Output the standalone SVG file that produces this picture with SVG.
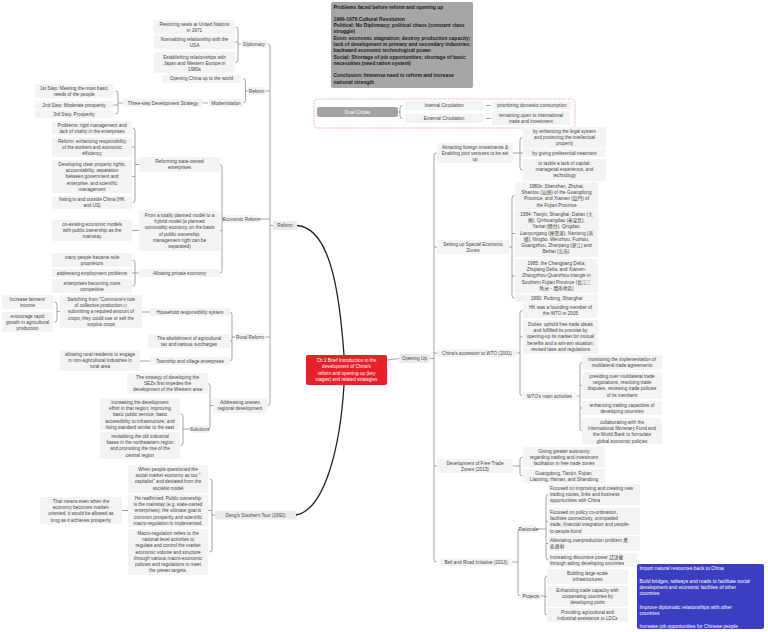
<svg xmlns="http://www.w3.org/2000/svg" width="768" height="632" viewBox="0 0 768 632">
<style>
.t{font-family:"Liberation Sans",Arial,"Noto Sans CJK TC",sans-serif;font-size:4.7px;fill:#444}
.c{text-anchor:middle}
.b{fill:#f3f3f3}
.b2{fill:#ebebeb}
.l{fill:none;stroke:#666;stroke-width:0.6}
.m{fill:none;stroke:#222;stroke-width:1.3}
.w{fill:#fff}
.k{fill:#1a1a1a;font-weight:bold;font-size:5px}
.n{font-size:4.9px}
</style>
<rect width="768" height="632" fill="#fff"/>

<g id="connectors">
<path class="m" d="M344,355 C340,300 332,228 297,225.5"/>
<path class="m" d="M344,385 C340,450 324,510 296,515"/>
<path class="l" d="M387,360 L399,358.5"/>
<path class="l" d="M267.5,44 Q270,44 270,46.5 V403 Q270,405.5 267.5,405.5 M265,91 H270 M258,219 H270 M265,337 H270 M270,225.5 H273"/>
<path class="l" d="M235.5,27 Q238,27 238,29.5 V60 Q238,62.5 235.5,62.5 M235,42 H238 M238,44 H241"/>
<path class="l" d="M243,78.5 Q245.5,78.5 245.5,81 V100.5 Q245.5,103 243,103 M245.5,91 H248"/>
<path class="l" d="M203,103 H208"/>
<path class="l" d="M115.5,91 Q118,91 118,93.5 V111.5 Q118,114 115.5,114 M113,105 H118 M118,103 H123"/>
<path class="l" d="M219.5,164.5 Q222,164.5 222,167 V270.5 Q222,273 219.5,273 M220,230.5 H222 M222,219 H225"/>
<path class="l" d="M132.5,128 Q135,128 135,130.5 V200 Q135,202.5 132.5,202.5 M132,147 H135 M132,176.5 H135 M135,164.5 H139"/>
<path class="l" d="M132,230.5 H139"/>
<path class="l" d="M132.5,260 Q135,260 135,262.5 V283.5 Q135,286 132.5,286 M132,273 H139"/>
<path class="l" d="M229.5,312 Q232,312 232,314.5 V358.5 Q232,361 229.5,361 M230,341 H232 M232,337 H235"/>
<path class="l" d="M142,312 H150"/>
<path class="l" d="M54.5,302 Q57,302 57,304.5 V319.5 Q57,322 54.5,322 M57,311.5 H60"/>
<path class="l" d="M140,361 H150"/>
<path class="l" d="M207.5,383.5 Q210,383.5 210,386 V426.5 Q210,429 207.5,429 M210,405.5 H213"/>
<path class="l" d="M180.5,414 Q183,414 183,416.5 V443 Q183,445.5 180.5,445.5 M183,429 H192"/>
<path class="l" d="M209.5,479 Q212,479 212,481.5 V549.5 Q212,552 209.5,552 M208,510.5 H212 M212,515 H215"/>
<path class="l" d="M122,510.5 H128"/>
<path class="l" d="M402.5,105.5 Q400,105.5 400,108 V116 Q400,118.5 402.5,118.5 M398,112 H400"/>
<path class="l" d="M486,105.5 H491 M486,118.5 H491"/>
<path class="l" d="M436.5,153 Q434,153 434,155.5 V559.5 Q434,562 436.5,562 M434,247 H437 M434,353 H437 M434,466 H437 M430,358.5 H434"/>
<path class="l" d="M522.5,137.5 Q520,137.5 520,140 V167.5 Q520,170 522.5,170 M520,153 H523 M513,153 H520"/>
<path class="l" d="M514.5,195.5 Q512,195.5 512,198 V295.5 Q512,298 514.5,298 M512,233.5 H515 M512,276 H515 M509,247 H512"/>
<path class="l" d="M522.5,310.5 Q520,310.5 520,313 V393.5 Q520,396 522.5,396 M520,337 H523 M517,353 H520"/>
<path class="l" d="M582.5,362.5 Q580,362.5 580,365 V428.5 Q580,431 582.5,431 M580,385.5 H582 M580,408 H582 M577,396 H580"/>
<path class="l" d="M522.5,457 Q520,457 520,459.5 V473.5 Q520,476 522.5,476 M513,466 H520"/>
<path class="l" d="M520.5,529 Q518,529 518,531.5 V593.5 Q518,596 520.5,596 M512,562 H518"/>
<path class="l" d="M548.5,494.5 Q546,494.5 546,497 V557.5 Q546,560 548.5,560 M546,521.5 H548 M546,543.5 H548 M537,529 H546"/>
<path class="l" d="M547.5,576 Q545,576 545,578.5 V612.5 Q545,615 547.5,615 M545,596.5 H547 M541,596 H545"/>
</g>

<g id="n-problems">
<rect x="331" y="2" width="142" height="86" rx="2" fill="#a6a6a6"/>
<text class="t k" x="333.5" y="8.7">Problems faced before reform and opening up</text>
<text class="t k" x="333.5" y="20.7">1966-1976 Cultural Revolution</text>
<text class="t k" x="333.5" y="27">Political: No Diplomacy; political chaos (constant class</text>
<text class="t k" x="333.5" y="33.3">struggle)</text>
<text class="t k" x="333.5" y="39.6">Econ: economic stagnation; destroy production capacity;</text>
<text class="t k" x="333.5" y="45.9">lack of development in primary and secondary industries;</text>
<text class="t k" x="333.5" y="52.2">backward economic technological power</text>
<text class="t k" x="333.5" y="58.5">Social: Shortage of job opportunities; shortage of basic</text>
<text class="t k" x="333.5" y="64.8">necessities  (need ration system)</text>
<text class="t k" x="333.5" y="77.4">Conclusion: Immense need to reform and increase</text>
<text class="t k" x="333.5" y="83.7">national strength</text>
</g>

<g id="n-center">
<rect x="306" y="355" width="81" height="30" rx="2" fill="#e8202a"/>
<text class="t c w" x="346.5" y="362.1">Ch.1 Brief Introduction to the</text>
<text class="t c w" x="346.5" y="368.4">development of China's</text>
<text class="t c w" x="346.5" y="374.7">reform and opening-up (key</text>
<text class="t c w" x="346.5" y="381">stages) and related strategies</text>
</g>

<g id="n-reform"><rect class="b2" x="273" y="221" width="24" height="9" rx="1.5"/><text class="t c" x="285" y="227.1">Reform</text></g>
<g id="n-diplomacy"><rect class="b" x="241" y="40" width="26" height="8" rx="1.5"/><text class="t c" x="254" y="45.6">Diplomacy</text></g>
<g id="n-un"><rect class="b" x="154" y="20" width="81" height="14" rx="1.5"/><text class="t c" x="194.5" y="25.6">Restoring seats at United Nations</text><text class="t c" x="194.5" y="31.6">in 1971</text></g>
<g id="n-usa"><rect class="b" x="154" y="35" width="81" height="14" rx="1.5"/><text class="t c" x="194.5" y="40.6">Normalizing relationship with the</text><text class="t c" x="194.5" y="46.6">USA</text></g>
<g id="n-japan"><rect class="b" x="154" y="52" width="81" height="21" rx="1.5"/><text class="t c" x="194.5" y="58.6">Establishing relationships with</text><text class="t c" x="194.5" y="64.6">Japan and Western Europe in</text><text class="t c" x="194.5" y="70.6">1980s</text></g>
<g id="n-reform2"><rect class="b" x="248" y="87" width="17" height="8" rx="1.5"/><text class="t c" x="256.5" y="92.6">Reform</text></g>
<g id="n-openworld"><rect class="b" x="162" y="74.5" width="79" height="8.5" rx="1.5"/><text class="t c" x="201.5" y="80.3">Opening China up to the world</text></g>
<g id="n-modern"><rect class="b" x="208" y="99" width="36" height="8" rx="1.5"/><text class="t c" x="226" y="104.6">Modernization</text></g>
<g id="n-threestep"><rect class="b" x="123" y="99" width="80" height="8" rx="1.5"/><text class="t c" x="163" y="104.6">Three-step Development Strategy</text></g>
<g id="n-step1"><rect class="b" x="35" y="84" width="78" height="14" rx="1.5"/><text class="t c" x="74" y="89.6">1st Step: Meeting the most basic</text><text class="t c" x="74" y="95.6">needs of the people</text></g>
<g id="n-step2"><rect class="b" x="35" y="101" width="78" height="8" rx="1.5"/><text class="t c" x="74" y="106.6">2nd Step: Moderate prosperity</text></g>
<g id="n-step3"><rect class="b" x="35" y="110" width="78" height="8" rx="1.5"/><text class="t c" x="74" y="115.6">3rd Step: Prosperity</text></g>

<g id="n-econ"><rect class="b" x="225" y="215" width="33" height="8" rx="1.5"/><text class="t c" x="241.5" y="220.6">Economic Reform</text></g>
<g id="n-soe"><rect class="b" x="139" y="157" width="81" height="15" rx="1.5"/><text class="t c" x="179.5" y="162.6">Reforming state-owned</text><text class="t c" x="179.5" y="168.9">enterprises</text></g>
<g id="n-soe1"><rect class="b" x="52" y="121" width="80" height="14" rx="1.5"/><text class="t c" x="92" y="126.6">Problems: rigid management and</text><text class="t c" x="92" y="132.6">lack of vitality in the enterprises</text></g>
<g id="n-soe2"><rect class="b" x="52" y="137" width="80" height="20" rx="1.5"/><text class="t c" x="92" y="142.6">Reform: enhancing responsibility</text><text class="t c" x="92" y="148.9">of the workers and economic</text><text class="t c" x="92" y="155.2">efficiency</text></g>
<g id="n-soe3"><rect class="b" x="52" y="160" width="80" height="33" rx="1.5"/><text class="t c" x="92" y="165.6">Developing clear property rights,</text><text class="t c" x="92" y="171.9">accountability, separation</text><text class="t c" x="92" y="178.2">between government and</text><text class="t c" x="92" y="184.5">enterprise, and scientific</text><text class="t c" x="92" y="190.8">management</text></g>
<g id="n-soe4"><rect class="b" x="52" y="196" width="80" height="13" rx="1.5"/><text class="t c" x="92" y="200.6">listing in and outside China (HK</text><text class="t c" x="92" y="206.9">and US)</text></g>
<g id="n-hybrid"><rect class="b" x="139" y="211" width="81" height="40" rx="1.5"/><text class="t c" x="179.5" y="216.6">From a totally planned model to a</text><text class="t c" x="179.5" y="222.9">hybrid model (a planned</text><text class="t c" x="179.5" y="229.2">commodity economy on the basis</text><text class="t c" x="179.5" y="235.5">of public ownership;</text><text class="t c" x="179.5" y="241.8">management right can be</text><text class="t c" x="179.5" y="248.1">separated)</text></g>
<g id="n-coexist"><rect class="b" x="52" y="220" width="80" height="21" rx="1.5"/><text class="t c" x="92" y="225.6">co-existing economic models</text><text class="t c" x="92" y="231.9">with public ownership as the</text><text class="t c" x="92" y="238.2">mainstay</text></g>
<g id="n-private"><rect class="b" x="139" y="269" width="81" height="8" rx="1.5"/><text class="t c" x="179.5" y="274.6">Allowing private economy</text></g>
<g id="n-prop"><rect class="b" x="52" y="253" width="80" height="14" rx="1.5"/><text class="t c" x="92" y="258.6">many people became sole</text><text class="t c" x="92" y="264.9">proprietors</text></g>
<g id="n-employ"><rect class="b" x="52" y="269" width="80" height="8" rx="1.5"/><text class="t c" x="92" y="274.6">addressing employment problems</text></g>
<g id="n-compet"><rect class="b" x="52" y="279" width="80" height="14" rx="1.5"/><text class="t c" x="92" y="284.6">enterprises becoming more</text><text class="t c" x="92" y="290.9">competitive</text></g>

<g id="n-rural"><rect class="b" x="235" y="333" width="30" height="8" rx="1.5"/><text class="t c" x="250" y="338.6">Rural Reform</text></g>
<g id="n-house"><rect class="b" x="150" y="308" width="80" height="8" rx="1.5"/><text class="t c" x="190" y="313.6">Household responsibility system</text></g>
<g id="n-switch"><rect class="b" x="60" y="295" width="82" height="33" rx="1.5"/><text class="t c" x="101" y="300.6">Switching from "Commune's rule</text><text class="t c" x="99" y="306.9">of collective production.</text><path d="M123,304.6h4M123,305.8h4M123,307h4" stroke="#888" stroke-width="0.4"/><text class="t c" x="101" y="313.2">submitting a required amount of</text><text class="t c" x="101" y="319.5">crops, they could use or sell the</text><text class="t c" x="101" y="325.8">surplus crops</text></g>
<g id="n-income"><rect class="b" x="2" y="295" width="51" height="14" rx="1.5"/><text class="t c" x="27.5" y="300.6">Increase farmers'</text><text class="t c" x="27.5" y="306.9">income</text></g>
<g id="n-agri"><rect class="b" x="2" y="312" width="51" height="20" rx="1.5"/><text class="t c" x="27.5" y="317.6">encourage rapid</text><text class="t c" x="27.5" y="323.9">growth in agricultural</text><text class="t c" x="27.5" y="330.2">production</text></g>
<g id="n-tax"><rect class="b" x="148" y="334" width="82" height="14" rx="1.5"/><text class="t c" x="189" y="339.6">The abolishment of agricultural</text><text class="t c" x="189" y="345.9">tax and various surcharges</text></g>
<g id="n-township"><rect class="b" x="150" y="357" width="80" height="8" rx="1.5"/><text class="t c" x="190" y="362.6">Township and village enterprises</text></g>
<g id="n-nonagri"><rect class="b" x="60" y="350" width="80" height="21" rx="1.5"/><text class="t c" x="100" y="355.6">allowing rural residents to engage</text><text class="t c" x="100" y="361.9">in non-agricultural industries in</text><text class="t c" x="100" y="368.2">rural area</text></g>

<g id="n-uneven"><rect class="b" x="213" y="398" width="54" height="15" rx="1.5"/><text class="t c" x="240" y="403.6">Addressing uneven</text><text class="t c" x="240" y="409.9">regional development</text></g>
<g id="n-sezfirst"><rect class="b" x="127" y="373" width="81" height="21" rx="1.5"/><text class="t c" x="167.5" y="378.6">The strategy of developing the</text><text class="t c" x="167.5" y="384.9">SEZs first impedes the</text><text class="t c" x="167.5" y="391.2">development of the Western area</text></g>
<g id="n-solutions"><rect class="b" x="192" y="425" width="16" height="8" rx="1.5"/><text class="t c" x="200" y="430.6">Solutions</text></g>
<g id="n-sol1"><rect class="b" x="100" y="398" width="80" height="32" rx="1.5"/><text class="t c" x="140" y="403.6">increasing the development</text><text class="t c" x="140" y="409.9">effort in that region; improving</text><text class="t c" x="140" y="416.2">basic public service, basic</text><text class="t c" x="140" y="422.5">accessibility to infrastructure, and</text><text class="t c" x="140" y="428.8">living standard similar to the east</text></g>
<g id="n-sol2"><rect class="b" x="100" y="432" width="80" height="27" rx="1.5"/><text class="t c" x="140" y="437.6">revitalising the old industrial</text><text class="t c" x="140" y="443.9">bases in the northeastern region</text><text class="t c" x="140" y="450.2">and promoting the rise of the</text><text class="t c" x="140" y="456.5">central region</text></g>

<g id="n-deng"><rect class="b2" x="215" y="510.5" width="81" height="9" rx="1.5"/><text class="t c" x="255.5" y="516.6">Deng's Southern Tour (1992)</text></g>
<g id="n-deng1"><rect class="b" x="128" y="465" width="80" height="28" rx="1.5"/><text class="t c" x="168" y="470.6">When people questioned the</text><text class="t c" x="168" y="476.9">social market economy as too "</text><text class="t c" x="168" y="483.2">capitalist" and deviated from the</text><text class="t c" x="168" y="489.5">socialist model</text></g>
<g id="n-deng2"><rect class="b" x="128" y="494" width="80" height="33" rx="1.5"/><text class="t c" x="168" y="499.6">He reaffirmed: Public ownership</text><text class="t c" x="168" y="505.9">is the mainstay (e.g. state-owned</text><text class="t c" x="168" y="512.2">enterprises); the ultimate goal is</text><text class="t c" x="168" y="518.5">common prosperity and scientific</text><text class="t c" x="168" y="524.8">macro-regulation is implemented.</text></g>
<g id="n-deng3"><rect class="b" x="128" y="529" width="80" height="46" rx="1.5"/><text class="t c" x="168" y="534.6">Macro-regulation refers to the</text><text class="t c" x="168" y="540.9">national-level activities to</text><text class="t c" x="168" y="547.2">regulate and control the market</text><text class="t c" x="168" y="553.5">economic volume and structure</text><text class="t c" x="168" y="559.8">through various macro-economic</text><text class="t c" x="168" y="566.1">policies and regulations to meet</text><text class="t c" x="168" y="572.4">the preset targets.</text></g>
<g id="n-market"><rect class="b" x="40" y="497" width="82" height="27" rx="1.5"/><text class="t c" x="81" y="502.6">That means even when the</text><text class="t c" x="81" y="508.9">economy becomes market-</text><text class="t c" x="81" y="515.2">oriented, it would be allowed as</text><text class="t c" x="81" y="521.5">long as it achieves prosperity</text></g>

<g id="n-dual">
<rect x="314" y="99" width="261" height="29" rx="4" fill="none" stroke="#f07070" stroke-width="0.6" stroke-dasharray="1.5 1"/>
<rect x="317" y="107" width="81" height="10" rx="2" fill="#a3a3a3"/><text class="t c w" x="357.5" y="113.6">Dual Circles</text>
</g>
<g id="n-internal"><rect class="b" x="405" y="101" width="78" height="9" rx="1.5"/><text class="t c" x="444" y="107.1">Internal Circulation</text></g>
<g id="n-external"><rect class="b" x="405" y="114" width="78" height="9" rx="1.5"/><text class="t c" x="444" y="120.1">External Circulation</text></g>
<g id="n-domestic"><rect class="b" x="492" y="101.5" width="80" height="8" rx="1.5"/><text class="t c" x="532" y="107.1">prioritizing domestic consumption</text></g>
<g id="n-intl"><rect class="b" x="492" y="111" width="78" height="14" rx="1.5"/><text class="t c" x="531" y="116.6">remaining open to international</text><text class="t c" x="531" y="122.9">trade and investment</text></g>

<g id="n-opening"><rect class="b2" x="399" y="354" width="31" height="9" rx="1.5"/><text class="t c" x="414.5" y="360.1">Opening Up</text></g>
<g id="n-attract"><rect class="b" x="437" y="143" width="76" height="20" rx="1.5"/><text class="t c" x="475" y="148.6">Attracting foreign investments &amp;</text><text class="t c" x="475" y="154.9">Enabling joint ventures to be set</text><text class="t c" x="475" y="161.2">up</text></g>
<g id="n-legal"><rect class="b" x="523" y="127" width="83" height="21" rx="1.5"/><text class="t c" x="564.5" y="132.6">by enhancing the legal system</text><text class="t c" x="564.5" y="138.9">and protecting the intellectual</text><text class="t c" x="564.5" y="145.2">property</text></g>
<g id="n-pref"><rect class="b" x="523" y="149" width="83" height="8" rx="1.5"/><text class="t c" x="564.5" y="154.6">by giving preferential treatment</text></g>
<g id="n-capital"><rect class="b" x="523" y="159" width="83" height="22" rx="1.5"/><text class="t c" x="564.5" y="164.6">to tackle a lack of capital,</text><text class="t c" x="564.5" y="170.9">managerial experience, and</text><text class="t c" x="564.5" y="177.2">technology</text></g>

<g id="n-sez"><rect class="b" x="437" y="240" width="72" height="14" rx="1.5"/><text class="t c" x="473" y="245.6">Setting up Special Economic</text><text class="t c" x="473" y="251.9">Zones</text></g>
<g id="n-1980"><rect class="b" x="515" y="182" width="83" height="27" rx="1.5"/><text class="t c" x="556.5" y="187.6">1980s: Shenzhen, Zhuhai,</text><text class="t c" x="556.5" y="193.9">Shantou (汕頭) of the Guangdong</text><text class="t c" x="556.5" y="200.2">Province, and Xiamen (廈門) of</text><text class="t c" x="556.5" y="206.5">the Fujian Province</text></g>
<g id="n-1984"><rect class="b" x="515" y="210" width="83" height="47" rx="1.5"/><text class="t c" x="556.5" y="215.6">1984: Tianjin, Shanghai, Dalian (大</text><text class="t c" x="556.5" y="221.9">連), Qinhuangdao (秦皇島),</text><text class="t c" x="556.5" y="228.2">Yantai (煙台), Qingdao,</text><text class="t c" x="556.5" y="234.5">Lianyungang (連雲港), Nantong (南</text><text class="t c" x="556.5" y="240.8">通), Ningbo, Wenzhou, Fuzhou,</text><text class="t c" x="556.5" y="247.1">Guangzhou, Zhanjiang (湛江) and</text><text class="t c" x="556.5" y="253.4">Beihai (北海).</text></g>
<g id="n-1985"><rect class="b" x="515" y="259" width="83" height="34" rx="1.5"/><text class="t c" x="556.5" y="264.6">1985: the Changjiang Delta,</text><text class="t c" x="556.5" y="270.9">Zhujiang Delta, and Xiamen-</text><text class="t c" x="556.5" y="277.2">Zhangzhou-Quanzhou triangle in</text><text class="t c" x="556.5" y="283.5">Southern Fujian Province (長江三</text><text class="t c" x="556.5" y="289.8">角洲、閩南地區)</text></g>
<g id="n-1990"><rect class="b" x="515" y="294" width="83" height="8" rx="1.5"/><text class="t c" x="556.5" y="299.6">1990: Pudong, Shanghai</text></g>

<g id="n-wto"><rect class="b" x="437" y="349" width="80" height="8" rx="1.5"/><text class="t c" x="477" y="354.6">China's accession to WTO (2001)</text></g>
<g id="n-hk"><rect class="b" x="523" y="303" width="75" height="15" rx="1.5"/><text class="t c" x="560.5" y="308.6">HK was a founding member of</text><text class="t c" x="560.5" y="314.9">the WTO in 2005</text></g>
<g id="n-duties"><rect class="b" x="523" y="320" width="75" height="34" rx="1.5"/><text class="t c" x="560.5" y="325.6">Duties: uphold free trade ideals</text><text class="t c" x="560.5" y="331.9">and fulfilled its promise by</text><text class="t c" x="560.5" y="338.2">opening-up its market for mutual</text><text class="t c" x="560.5" y="344.5">benefits and a win-win situation;</text><text class="t c" x="560.5" y="350.8">revised laws and regulations</text></g>
<g id="n-wtoact"><rect class="b" x="522" y="392" width="55" height="8" rx="1.5"/><text class="t c" x="549.5" y="397.6">WTO's main activities</text></g>
<g id="n-monitor"><rect class="b" x="582" y="355" width="80" height="15" rx="1.5"/><text class="t c" x="622" y="360.6">monitoring the implementation of</text><text class="t c" x="622" y="366.9">multilateral trade agreements</text></g>
<g id="n-preside"><rect class="b" x="582" y="372" width="80" height="27" rx="1.5"/><text class="t c" x="622" y="377.6">presiding over multilateral trade</text><text class="t c" x="622" y="383.9">negotiations, resolving trade</text><text class="t c" x="622" y="390.2">disputes, reviewing trade policies</text><text class="t c" x="622" y="396.5">of its members</text></g>
<g id="n-capac"><rect class="b" x="582" y="401" width="80" height="14" rx="1.5"/><text class="t c" x="622" y="406.6">enhancing trading capacities of</text><text class="t c" x="622" y="412.9">developing countries</text></g>
<g id="n-imf"><rect class="b" x="582" y="418" width="80" height="26" rx="1.5"/><text class="t c" x="622" y="423.6">collaborating with the</text><text class="t c" x="622" y="429.9">International Monetary Fund and</text><text class="t c" x="622" y="436.2">the World Bank to formulate</text><text class="t c" x="622" y="442.5">global economic policies</text></g>

<g id="n-ftz"><rect class="b" x="437" y="459" width="76" height="14" rx="1.5"/><text class="t c" x="475" y="464.6">Development of Free Trade</text><text class="t c" x="475" y="470.9">Zones (2013)</text></g>
<g id="n-autonomy"><rect class="b" x="523" y="447" width="82" height="20" rx="1.5"/><text class="t c" x="564" y="452.6">Giving greater autonomy</text><text class="t c" x="564" y="458.9">regarding trading and investment</text><text class="t c" x="564" y="465.2">facilitation in free trade zones</text></g>
<g id="n-ftzlist"><rect class="b" x="523" y="469" width="82" height="14" rx="1.5"/><text class="t c" x="564" y="474.6">Guangdong, Tianjin, Fujian,</text><text class="t c" x="564" y="480.9">Liaoning, Hainan, and Shandong</text></g>

<g id="n-bri"><rect class="b" x="440" y="558" width="72" height="8" rx="1.5"/><text class="t c" x="476" y="563.6">Belt and Road Initiative (2013)</text></g>
<g id="n-rationale"><rect class="b" x="520" y="525" width="17" height="8" rx="1.5"/><text class="t c" x="528.5" y="530.6">Rationale</text></g>
<g id="n-rat1"><rect class="b" x="548" y="484" width="92" height="21" rx="1.5"/><text class="t" x="550" y="489.6">Focused on improving and creating new</text><text class="t" x="550" y="495.9">trading routes, links and business</text><text class="t" x="550" y="502.2">opportunities with China</text></g>
<g id="n-rat2"><rect class="b" x="548" y="508" width="92" height="27" rx="1.5"/><text class="t" x="550" y="513.6">Focused on policy co-ordination,</text><text class="t" x="550" y="519.9">facilities connectivity, unimpeded</text><text class="t" x="550" y="526.2">trade, financial integration and people-</text><text class="t" x="550" y="532.5">to-people bond</text></g>
<g id="n-rat3"><rect class="b" x="548" y="536" width="92" height="15" rx="1.5"/><text class="t" x="550" y="541.6">Alleviating overproduction problem 產</text><text class="t" x="550" y="547.9">能過剩</text></g>
<g id="n-rat4"><rect class="b" x="548" y="553" width="89" height="14" rx="1.5"/><text class="t" x="550" y="558.6">Increasing discursive power 話語權</text><text class="t" x="550" y="564.9">through aiding developing countries</text></g>
<g id="n-projects"><rect class="b" x="521" y="592" width="20" height="8" rx="1.5"/><text class="t c" x="531" y="597.6">Projects</text></g>
<g id="n-proj1"><rect class="b" x="547" y="569" width="81" height="15" rx="1.5"/><text class="t c" x="587.5" y="574.6">Building large-scale</text><text class="t c" x="587.5" y="580.9">infrastructures</text></g>
<g id="n-proj2"><rect class="b" x="547" y="586" width="81" height="21" rx="1.5"/><text class="t c" x="587.5" y="591.6">Enhancing trade capacity with</text><text class="t c" x="587.5" y="597.9">cooperating countries by</text><text class="t c" x="587.5" y="604.2">developing ports</text></g>
<g id="n-proj3"><rect class="b" x="547" y="608" width="81" height="14" rx="1.5"/><text class="t c" x="587.5" y="613.6">Providing agricultural and</text><text class="t c" x="587.5" y="619.9">industrial assistance to LDCs</text></g>
<g id="n-note">
<rect x="637" y="564" width="127" height="65" rx="2" fill="#3b3ec0"/>
<text class="t w n" x="639.5" y="569.7">Import natural resources back to China</text>
<text class="t w n" x="639.5" y="582.7">Build bridges, railways and roads to facilitate social</text>
<text class="t w n" x="639.5" y="589">development and economic facilities of other</text>
<text class="t w n" x="639.5" y="595.3">countries</text>
<text class="t w n" x="639.5" y="608.7">Improve diplomatic relationships with other</text>
<text class="t w n" x="639.5" y="615">countries</text>
<text class="t w n" x="639.5" y="627.7">Increase job opportunities for Chinese people</text>
</g>
</svg>
